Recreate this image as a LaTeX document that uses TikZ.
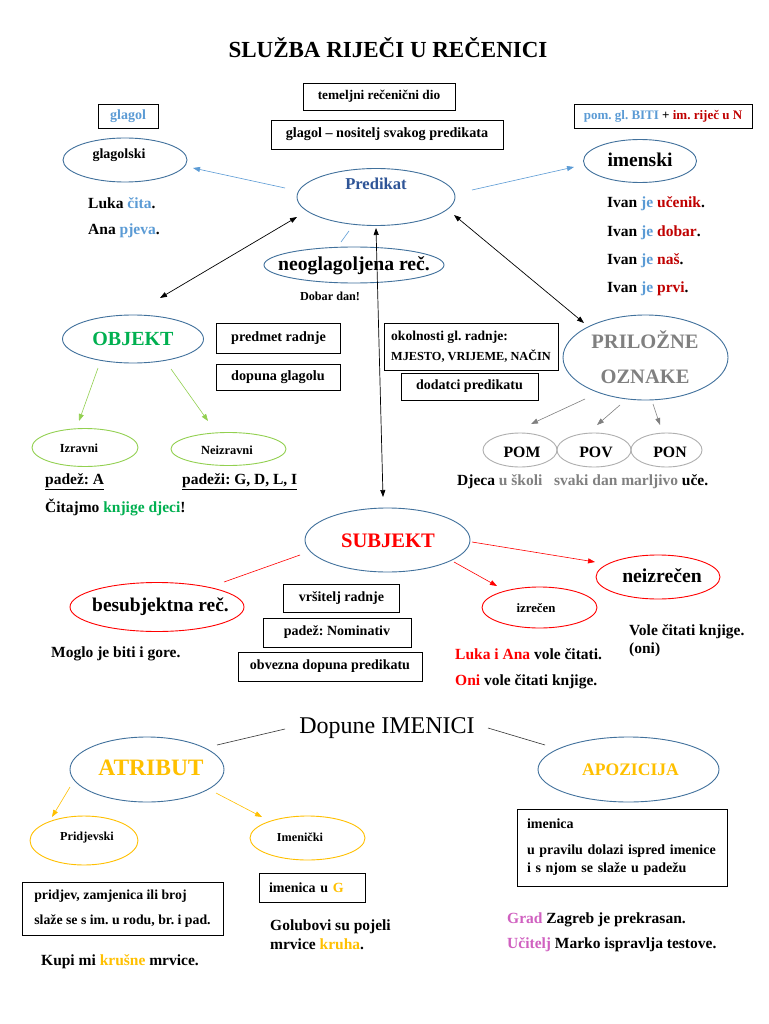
\documentclass[tikz,border=0pt]{standalone}
\usepackage{fontspec}
\setmainfont{Liberation Serif}
\usetikzlibrary{shapes.geometric,arrows.meta}
\definecolor{ellblue}{RGB}{65,113,156}
\definecolor{lblue}{RGB}{91,155,213}
\definecolor{pblue}{RGB}{47,85,151}
\definecolor{dred}{RGB}{192,0,0}
\definecolor{ogreen}{RGB}{0,176,80}
\definecolor{lgreen}{RGB}{146,208,80}
\definecolor{pgray}{RGB}{128,128,128}
\definecolor{lgray}{RGB}{175,175,175}
\definecolor{yel}{RGB}{255,192,0}
\definecolor{pinkc}{RGB}{208,96,192}
\frenchspacing
\begin{document}
\begin{tikzpicture}[x=1pt,y=-1pt,
  every node/.style={inner sep=0pt},
  f/.style={font=\bfseries\fontsize{#1}{#1}\selectfont},
  ell/.style={ellipse, draw, line width=0.9pt, inner sep=0pt},
  box/.style={rectangle, draw=black, line width=0.9pt, inner sep=0pt},
  txt/.style={anchor=west},
  arr/.style={line width=0.6pt, -{Triangle[length=7pt,width=5pt]}},
  darr/.style={line width=0.7pt, {Triangle[length=7pt,width=5pt]}-{Triangle[length=7pt,width=5pt]}},
]
\fill[white] (0,0) rectangle (768,1024);
\useasboundingbox (0,0) rectangle (768,1024);

% title
\node[f=23] (title) at (388,48) {SLUŽBA RIJEČI U REČENICI};

% top boxes
\node[box, minimum width=152, minimum height=27, f=13.3] (tem) at (379,96.5) {temeljni rečenični dio};
\node[box, minimum width=232, minimum height=29, f=14.2] (glnos) at (387,134.5) {glagol – nositelj svakog predikata};
\node[box, minimum width=60, minimum height=24, f=14, text=lblue] (glbox) at (128,116) {glagol};
\node[box, minimum width=178, minimum height=24, f=13] (pombox) at (663,116) {\textcolor{lblue}{pom. gl. BITI} + \textcolor{dred}{im. riječ u N}};

% predikat
\node[ell, draw=ellblue, minimum width=124, minimum height=44] (glag) at (125,160) {};
\node[f=14] (glagt) at (119,155) {glagolski};
\node[ell, draw=ellblue, minimum width=158, minimum height=57] (pred) at (376,197) {};
\node[f=16.6, text=pblue] (predt) at (376,184) {Predikat};
\node[ell, draw=ellblue, minimum width=113, minimum height=43] (imen) at (640,161) {};
\node[f=19.5] (iment) at (640,160) {imenski};

\node[f=15.5, txt] (l1) at (88,203) {Luka \textcolor{lblue}{čita}.};
\node[f=15.5, txt] (l2) at (88,231) {Ana \textcolor{lblue}{pjeva}.};
\node[f=15.5, txt] (i1) at (607,204) {Ivan \textcolor{lblue}{je} \textcolor{dred}{učenik}.};
\node[f=15.5, txt] (i2) at (607,233) {Ivan \textcolor{lblue}{je} \textcolor{dred}{dobar}.};
\node[f=15.5, txt] (i3) at (607,261) {Ivan \textcolor{lblue}{je} \textcolor{dred}{naš}.};
\node[f=15.5, txt] (i4) at (607,289) {Ivan \textcolor{lblue}{je} \textcolor{dred}{prvi}.};

\node[ell, draw=ellblue, minimum width=180, minimum height=36] (neo) at (354,265) {};
\node[f=19.7] (neot) at (354,266) {neoglagoljena reč.};
\node[f=12.2] (dobar) at (330,296) {Dobar dan!};

% objekt
\node[ell, draw=ellblue, minimum width=141, minimum height=48] (obj) at (133,339) {};
\node[f=20, text=ogreen] (objt) at (133,339) {OBJEKT};
\node[box, minimum width=124, minimum height=30, f=14.2] (predm) at (278.5,338) {predmet radnje};
\node[box, minimum width=124, minimum height=26, f=14.2] (dopg) at (278,377) {dopuna glagolu};
\node[ell, draw=lgreen, minimum width=106, minimum height=38] (izr) at (85,447.5) {};
\node[f=12.3] (izrt) at (79,448) {Izravni};
\node[ell, draw=lgreen, minimum width=115, minimum height=33] (neizr) at (228.5,449) {};
\node[f=12.4] (neizrt) at (227,450) {Neizravni};
\node[f=15.5, txt] (padA) at (45,482) {\underline{padež: A}};
\node[f=15.5, txt] (padG) at (182,482) {\underline{padeži: G, D, L, I}};
\node[f=15.5, txt] (cit) at (45,507) {Čitajmo \textcolor{ogreen}{knjige djeci}!};

% priloske oznake
\node[box, minimum width=174, minimum height=47, align=left, font=\bfseries\fontsize{13.6}{20}\selectfont] (okol) at (471,346.5) {okolnosti gl. radnje:\\{\fontsize{12.3}{20}\selectfont MJESTO, VRIJEME, NAČIN}};
\node[box, minimum width=137, minimum height=27, f=14] (dod) at (469.5,386.5) {dodatci predikatu};
\node[ell, draw=ellblue, minimum width=165, minimum height=85] (pril) at (645.5,357.5) {};
\node[f=20.5, text=pgray] (prilt1) at (645,340) {PRILOŽNE};
\node[f=20.5, text=pgray] (prilt2) at (645,377) {OZNAKE};
\node[ell, draw=lgray, minimum width=74, minimum height=34] (pom) at (520,450) {};
\node[ell, draw=lgray, minimum width=74, minimum height=34] (pov) at (594,450) {};
\node[ell, draw=lgray, minimum width=71, minimum height=34] (pon) at (666.5,450) {};
\node[f=15.8] (pomt) at (522,452) {POM};
\node[f=15.8] (povt) at (596,452) {POV};
\node[f=15.8] (pont) at (670,452) {PON};
\node[f=15.5, txt] (djeca) at (457,482) {Djeca \textcolor{pgray}{u školi}\ \ \ \textcolor{pgray}{svaki dan marljivo} uče.};

% subjekt
\node[ell, draw=ellblue, minimum width=165, minimum height=64] (subj) at (387.5,540) {};
\node[f=20.6, text=red] (subjt) at (388,541) {SUBJEKT};
\node[ell, draw=red, minimum width=174, minimum height=49] (besub) at (157,607) {};
\node[f=19.4] (besubt) at (160.5,607) {besubjektna reč.};
\node[ell, draw=red, minimum width=124, minimum height=44] (neizc) at (658,577) {};
\node[f=19.7] (neizct) at (662,576) {neizrečen};
\node[ell, draw=red, minimum width=115, minimum height=41] (izc) at (539.5,607.5) {};
\node[f=12.8] (izct) at (536,608) {izrečen};
\node[box, minimum width=116, minimum height=28, f=14] (vrs) at (341.5,598) {vršitelj radnje};
\node[box, minimum width=148, minimum height=29, f=14] (padN) at (337,632.5) {padež: Nominativ};
\node[box, minimum width=184, minimum height=29, f=14] (obv) at (330,666.5) {obvezna dopuna predikatu};
\node[f=15.5, txt] (moglo) at (51,654) {Moglo je biti i gore.};
\node[f=15.5, txt] (lukaana) at (455,654) {\textcolor{red}{Luka i Ana} vole čitati.};
\node[f=15.5, txt] (oni) at (455,682) {\textcolor{red}{Oni} vole čitati knjige.};
\node[f=15.5, txt] (vole) at (629,632) {Vole čitati knjige.};
\node[f=15.5, txt] (onip) at (629,650) {(oni)};

% dopune imenici
\node[font=\fontsize{24}{24}\selectfont] (dop) at (387,728) {Dopune IMENICI};
\node[ell, draw=ellblue, minimum width=154, minimum height=65] (atr) at (147,769.5) {};
\node[f=23.5, text=yel] (atrt) at (151,768) {ATRIBUT};
\node[ell, draw=yel, minimum width=108, minimum height=49] (prid) at (84,840.5) {};
\node[f=12.2] (pridt) at (87,838) {Pridjevski};
\node[ell, draw=yel, minimum width=115, minimum height=44] (imc) at (307.5,838) {};
\node[f=12.2] (imct) at (300,837) {Imenički};
\node[box, minimum width=201, minimum height=53, align=left, font=\bfseries\fontsize{13.8}{25}\selectfont] (pridbox) at (122.5,908.5) {pridjev, zamjenica ili broj\\slaže se s im. u rodu, br. i pad.};
\node[box, inner xsep=10pt, text width=86pt, minimum height=29, align=left, f=14] (imbox) at (312,887.5) {imenica u \textcolor{yel}{G}};
\node[f=15.5, txt] (gol1) at (270,927) {Golubovi su pojeli};
\node[f=15.5, txt] (gol2) at (270,944) {mrvice \textcolor{yel}{kruha}.};
\node[f=15.5, txt] (kupi) at (41,962) {Kupi mi \textcolor{yel}{krušne} mrvice.};
\node[ell, draw=ellblue, minimum width=181, minimum height=65] (apo) at (628.5,769.5) {};
\node[f=17.6, text=yel] (apot) at (630.5,770) {APOZICIJA};
\node[box, inner xsep=10pt, text width=190pt, minimum height=77, align=left, font=\bfseries\fontsize{14}{18}\selectfont] (apobox) at (622,847.5) {imenica\\[8pt]u pravilu dolazi ispred imenice\\i s njom se slaže u padežu};
\node[f=15.5, txt] (grad) at (507,920) {\textcolor{pinkc}{Grad} Zagreb je prekrasan.};
\node[f=15.5, txt] (uc) at (507,945) {\textcolor{pinkc}{Učitelj} Marko ispravlja testove.};

% connector end points
\coordinate (pg1) at (285,188); \coordinate (pg2) at (193,168);
\coordinate (pi1) at (472,190); \coordinate (pi2) at (574,167);
\coordinate (pn1) at (341,242); \coordinate (pn2) at (349,231);
\coordinate (po1) at (297,217); \coordinate (po2) at (160,298);
\coordinate (pp1) at (454,215); \coordinate (pp2) at (584,323);
\coordinate (ps1) at (376,228); \coordinate (ps2) at (383,497);
\coordinate (og1) at (98,368); \coordinate (og2) at (79,421);
\coordinate (og3) at (171,369); \coordinate (og4) at (208,421);
\coordinate (pr1) at (585,399); \coordinate (pr2) at (531,424);
\coordinate (pr3) at (620,405); \coordinate (pr4) at (597,425);
\coordinate (pr5) at (653,404); \coordinate (pr6) at (660,425);
\coordinate (sb1) at (300,555); \coordinate (sb2) at (224,582);
\coordinate (sn1) at (472,542); \coordinate (sn2) at (595,562);
\coordinate (si1) at (454,562); \coordinate (si2) at (497,586);
\coordinate (da1) at (285,729); \coordinate (da2) at (217,745);
\coordinate (dp1) at (488,728); \coordinate (dp2) at (545,745);
\coordinate (at1) at (70,787); \coordinate (at2) at (52,817);
\coordinate (at3) at (216,793); \coordinate (at4) at (262,817);

\draw[arr, lblue] (pg1) -- (pg2);
\draw[arr, lblue] (pi1) -- (pi2);
\draw[line width=0.6pt, lblue] (pn1) -- (pn2);
\draw[darr] (po1) -- (po2);
\draw[darr] (pp1) -- (pp2);
\draw[darr] (ps1) -- (ps2);
\draw[arr, lgreen] (og1) -- (og2);
\draw[arr, lgreen] (og3) -- (og4);
\draw[arr, pgray] (pr1) -- (pr2);
\draw[arr, pgray] (pr3) -- (pr4);
\draw[arr, pgray] (pr5) -- (pr6);
\draw[line width=0.6pt, red] (sb1) -- (sb2);
\draw[arr, red] (sn1) -- (sn2);
\draw[arr, red] (si1) -- (si2);
\draw[line width=0.6pt, black!80] (da1) -- (da2);
\draw[line width=0.6pt, black!80] (dp1) -- (dp2);
\draw[arr, yel] (at1) -- (at2);
\draw[arr, yel] (at3) -- (at4);
\end{tikzpicture}
\end{document}
